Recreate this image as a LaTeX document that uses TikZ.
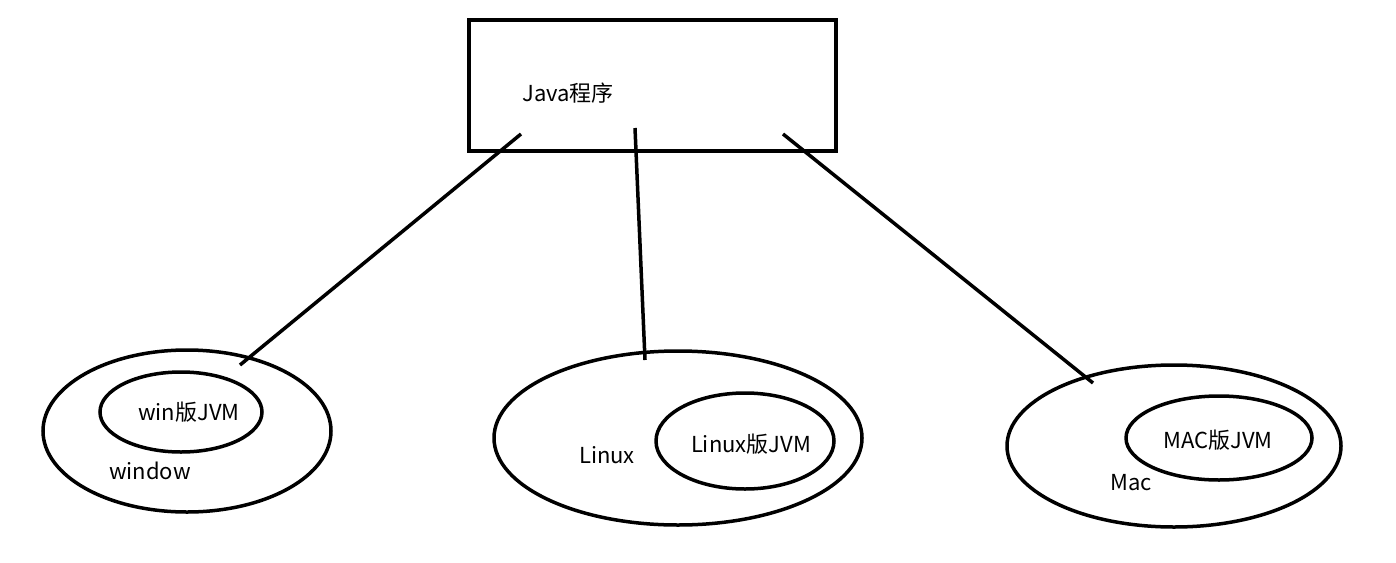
\documentclass[tikz,border=0pt]{standalone}
\usepackage{fontspec}
\setmainfont{Noto Sans CJK SC}
\begin{document}
\begin{tikzpicture}[x=1pt,y=-1pt,line width=3.5pt,
  lbl/.style={font=\fontsize{22}{24}\selectfont,inner sep=0pt}]
\useasboundingbox (0,0) rectangle (1396,562);
\node[draw,minimum width=367pt,minimum height=131pt,inner sep=0pt] (box) at (652.5,85.5) {};
\node[lbl] (jp) at (568,93) {Java程序};
\coordinate (a1) at (521,134); \coordinate (b1) at (240,365);
\coordinate (a2) at (635,128); \coordinate (b2) at (645,360);
\coordinate (a3) at (783,134); \coordinate (b3) at (1093,383);
\draw (a1) -- (b1); \draw (a2) -- (b2); \draw (a3) -- (b3);
\draw (187,431) ellipse [x radius=144, y radius=81];
\draw (181,412) ellipse [x radius=81, y radius=40];
\node[lbl] (w1) at (189,412) {win版JVM};
\node[lbl] (w2) at (150,471) {window};
\draw (678,438) ellipse [x radius=184, y radius=87];
\draw (745,441) ellipse [x radius=89, y radius=48];
\node[lbl] (l1) at (751,444) {Linux版JVM};
\node[lbl] (l2) at (607,455) {Linux};
\draw (1174,446) ellipse [x radius=167, y radius=81];
\draw (1219,438) ellipse [x radius=93, y radius=42];
\node[lbl] (m1) at (1218,440) {MAC版JVM};
\node[lbl] (m2) at (1131,483) {Mac};
\end{tikzpicture}
\end{document}
